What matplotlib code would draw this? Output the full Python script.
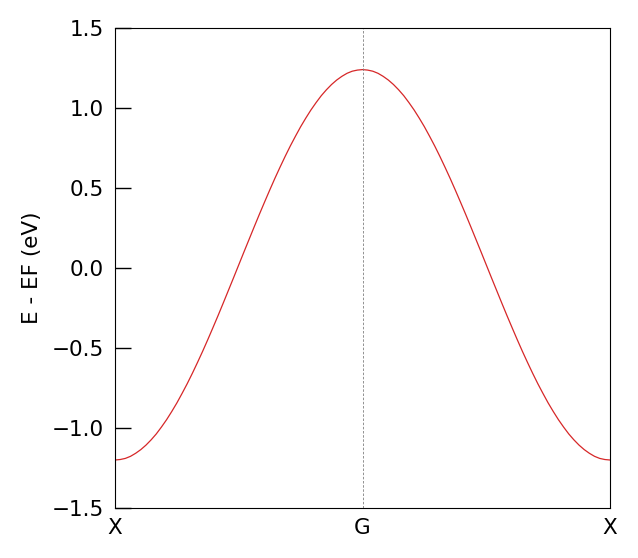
import matplotlib
matplotlib.use("Agg")
import matplotlib.pyplot as plt
import numpy as np

# band energies (eV, relative to EF) read along X -> G, then G -> X
band_XG = [-1.200, -1.197, -1.190, -1.177, -1.158, -1.135, -1.107, -1.074,
           -1.037, -0.994, -0.948, -0.897, -0.843, -0.784, -0.723, -0.658,
           -0.590, -0.520, -0.447, -0.372, -0.296, -0.218, -0.139, -0.060,
           0.020, 0.100, 0.179, 0.258, 0.336, 0.412, 0.487, 0.560,
           0.630, 0.698, 0.763, 0.824, 0.883, 0.937, 0.988, 1.034,
           1.077, 1.114, 1.147, 1.175, 1.198, 1.217, 1.230, 1.237, 1.240]
band_GX = band_XG[::-1][1:]
energies = band_XG + band_GX

kpts = np.linspace(0, 2, len(energies))
tick_pos = [0, 1, 2]
tick_labels = ['X', 'G', 'X']

fig = plt.figure(figsize=(6.38, 5.58), dpi=100)
ax = fig.add_axes([0.1803, 0.0896, 0.7758, 0.8602])

ax.plot(kpts, energies, color='tab:red', linewidth=0.9)
ax.axvline(1, color='gray', linestyle='--', linewidth=0.6, dashes=(3, 2))

ax.set_xlim(0, 2)
ax.set_ylim(-1.5, 1.5)
ax.set_xticks(tick_pos)
ax.set_xticklabels(tick_labels)
ax.set_yticks([-1.5, -1.0, -0.5, 0.0, 0.5, 1.0, 1.5])
ax.tick_params(axis='y', direction='in', length=11.5, width=1, labelsize=15.5, pad=8)
ax.tick_params(axis='x', length=0, labelsize=15.5, pad=7)
ax.set_ylabel('E - EF (eV)', fontsize=15.5, labelpad=7)

plt.savefig('out.png', dpi=100)
plt.close()
